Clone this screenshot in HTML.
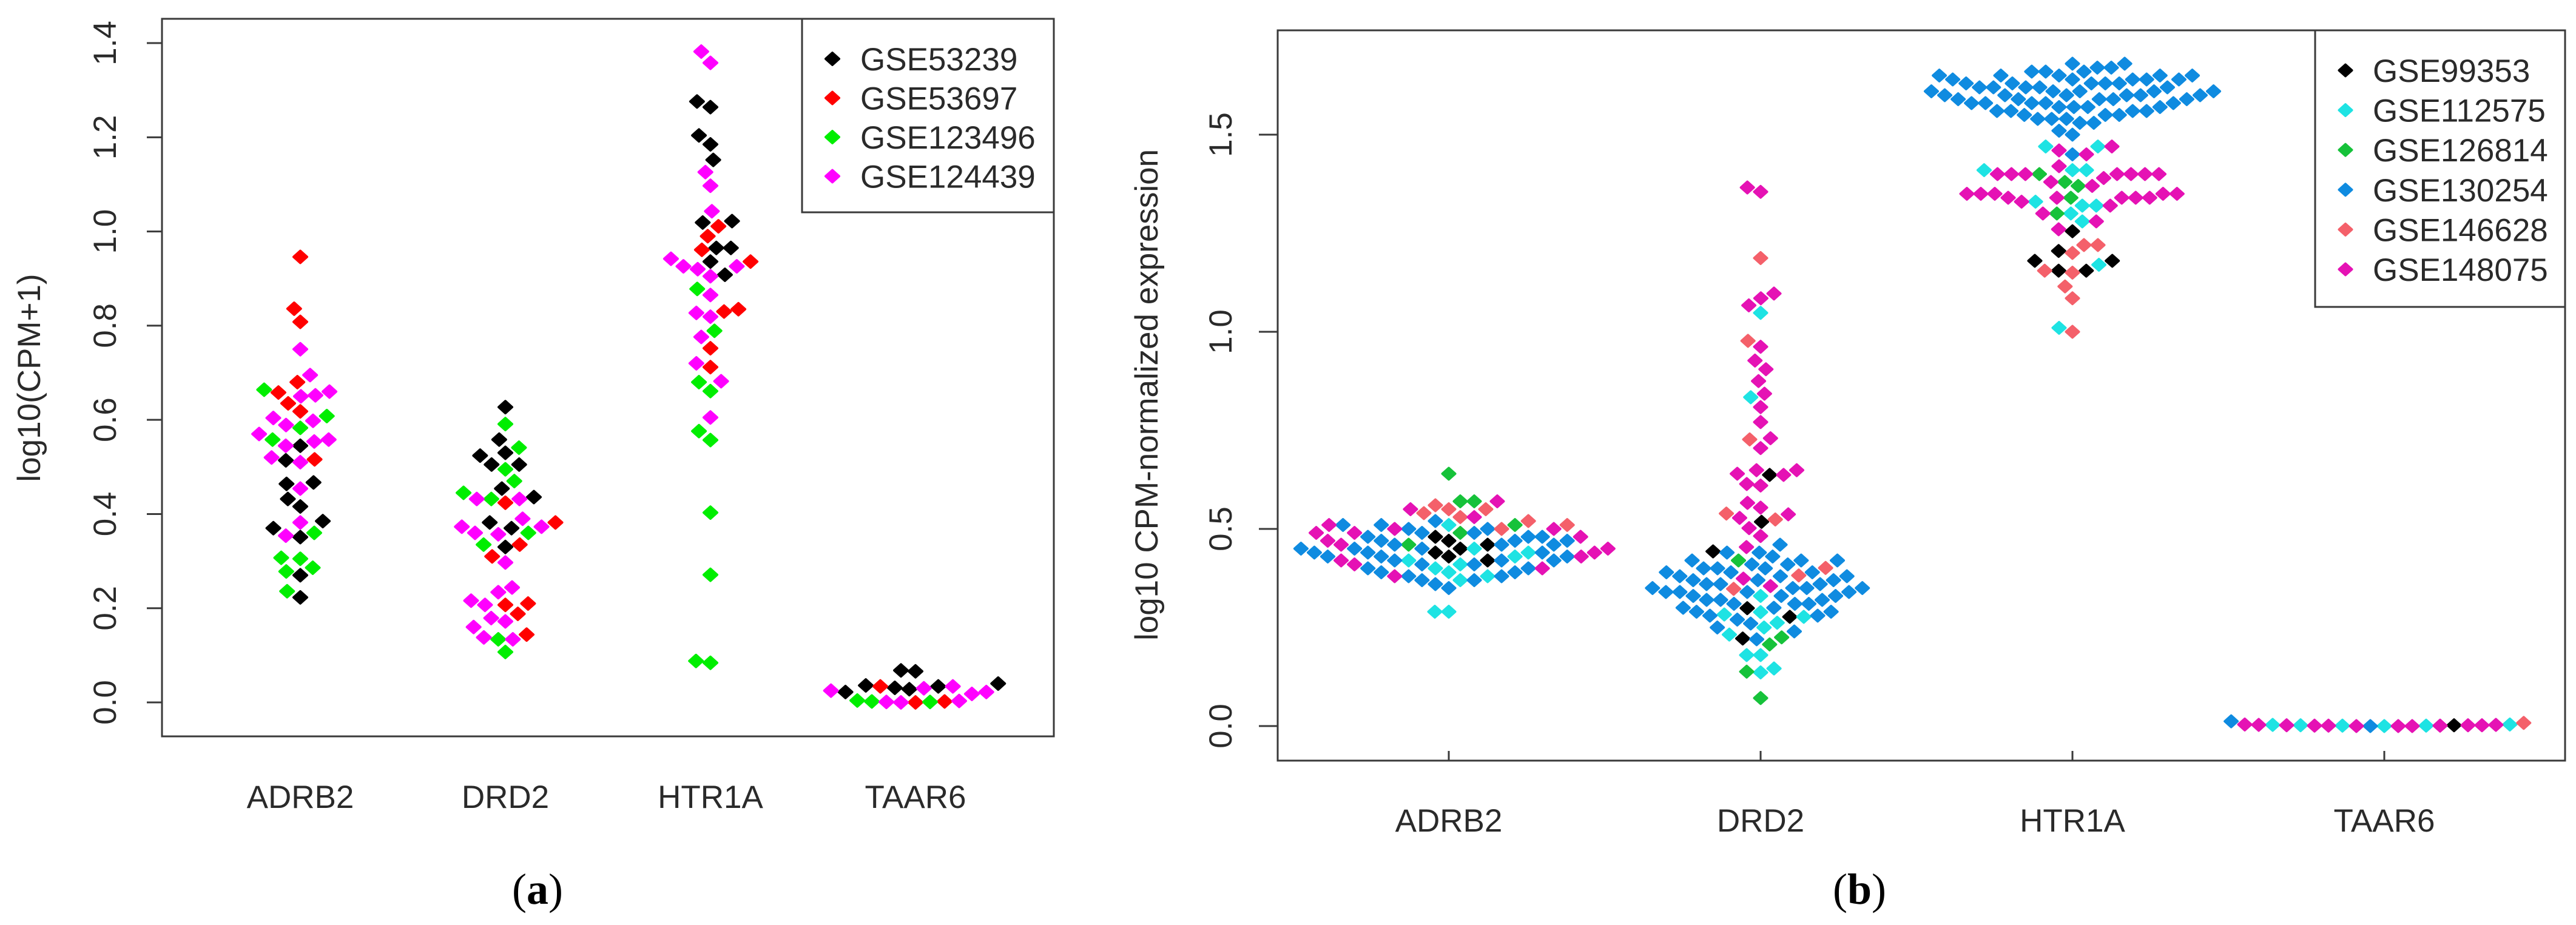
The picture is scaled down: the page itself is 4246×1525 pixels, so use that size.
<!DOCTYPE html>
<html><head><meta charset="utf-8"><style>
html,body{margin:0;padding:0;background:#fff;}
svg{display:block;}
text{font-family:"Liberation Sans",Arial,sans-serif;fill:#2a2a2a;}
</style></head><body>
<svg id="fig" width="4246" height="1525" viewBox="0 0 4246 1525" xmlns="http://www.w3.org/2000/svg">
<rect width="4246" height="1525" fill="#fff"/>
<g id="panelA"></g>
<g id="panelB"></g>
<text x="886" y="1490" text-anchor="middle" style="font-family:'Liberation Serif',serif;font-size:72px;fill:#000">(<tspan font-weight="bold">a</tspan>)</text>
<text x="3065" y="1490" text-anchor="middle" style="font-family:'Liberation Serif',serif;font-size:72px;fill:#000">(<tspan font-weight="bold">b</tspan>)</text>
</svg>
<script>
// ---------- Panel A data ----------
const genesA = ["ADRB2","DRD2","HTR1A","TAAR6"];
const datasetsA = ["GSE53239","GSE53697","GSE123496","GSE124439"];
const colorsA = ["#000000","#ff0000","#00ee00","#ff00ff"];
const ticksA = [0.0,0.2,0.4,0.6,0.8,1.0,1.2,1.4];
const tickLabelsA = ["0.0","0.2","0.4","0.6","0.8","1.0","1.2","1.4"];
const a_ADRB2 = [
 [0.545,0.514,0.464,0.467,0.432,0.416,0.385,0.351,0.37,0.27,0.223],
 [0.946,0.836,0.808,0.68,0.658,0.635,0.618,0.516],
 [0.664,0.608,0.583,0.558,0.36,0.305,0.307,0.286,0.278,0.236],
 [0.75,0.695,0.66,0.652,0.65,0.598,0.589,0.604,0.57,0.554,0.545,0.558,0.52,0.51,0.454,0.382,0.354]];
const a_DRD2 = [
 [0.627,0.558,0.53,0.524,0.505,0.505,0.454,0.436,0.382,0.37,0.33],
 [0.424,0.382,0.335,0.31,0.21,0.207,0.188,0.144],
 [0.591,0.541,0.495,0.47,0.445,0.432,0.36,0.335,0.134,0.107],
 [0.432,0.432,0.39,0.373,0.357,0.36,0.373,0.297,0.244,0.234,0.207,0.216,0.172,0.179,0.16,0.138,0.134]];
const a_HTR1A = [
 [1.276,1.264,1.204,1.185,1.152,1.019,1.022,0.965,0.965,0.936,0.908],
 [1.011,0.99,0.961,0.936,0.835,0.83,0.752,0.712],
 [0.878,0.789,0.68,0.661,0.576,0.557,0.403,0.271,0.084,0.088],
 [1.382,1.358,1.126,1.097,1.043,0.926,0.92,0.926,0.942,0.905,0.865,0.827,0.819,0.776,0.72,0.682,0.605]];
const a_TAAR6 = [
 [0.066,0.068,0.040,0.034,0.031,0.036,0.028,0.022],
 [0.034,0.002,0.0],
 [0.002,0.001,0.004],
 [0.034,0.030,0.025,0.022,0.018,0.003,0.001,0.0]];

// ---------- Panel B data ----------
const genesB = ["ADRB2","DRD2","HTR1A","TAAR6"];
const datasetsB = ["GSE99353","GSE112575","GSE126814","GSE130254","GSE146628","GSE148075"];
const colorsB = ["#000000","#1ee3e3","#16c23a","#0f8be0","#f4606a","#e512b4"];
const ticksB = [0.0,0.5,1.0,1.5];
const tickLabelsB = ["0.0","0.5","1.0","1.5"];
const b_ADRB2 = [
 [0.47,0.46,0.44,0.45,0.48,0.42,0.43],
 [0.51,0.45,0.44,0.40,0.38,0.37,0.42,0.43,0.29,0.29,0.39,0.41],
 [0.64,0.57,0.57,0.51,0.49,0.46],
 [0.52,0.51,0.51,0.50,0.50,0.49,0.49,0.48,0.48,0.48,0.47,0.47,0.47,0.46,0.46,0.46,0.45,0.45,0.45,0.44,0.44,0.44,0.43,0.43,0.43,0.42,0.42,0.42,0.41,0.41,0.40,0.40,0.39,0.39,0.38,0.38,0.37,0.37,0.36,0.35],
 [0.52,0.55,0.54,0.53,0.56,0.55,0.51,0.50],
 [0.57,0.55,0.53,0.51,0.50,0.49,0.48,0.47,0.46,0.45,0.44,0.42,0.41,0.40,0.38,0.50,0.43,0.49]];
const b_DRD2 = [
 [0.637,0.518,0.443,0.299,0.277,0.222],
 [1.048,0.834,0.33,0.277,0.262,0.232,0.18,0.18,0.146,0.136,0.289,0.283,0.25],
 [0.420,0.207,0.225,0.138,0.071],
 [0.46,0.44,0.44,0.43,0.42,0.42,0.42,0.41,0.41,0.40,0.40,0.40,0.39,0.39,0.39,0.38,0.38,0.38,0.37,0.37,0.37,0.36,0.36,0.36,0.35,0.35,0.35,0.35,0.34,0.34,0.34,0.34,0.33,0.33,0.33,0.32,0.32,0.32,0.31,0.31,0.31,0.30,0.30,0.29,0.29,0.28,0.28,0.27,0.26,0.25,0.24,0.22],
 [1.187,0.977,0.727,0.539,0.524,0.401,0.348,0.382],
 [1.366,1.355,1.085,1.097,1.067,0.962,0.927,0.905,0.875,0.843,0.809,0.771,0.73,0.705,0.649,0.637,0.649,0.640,0.610,0.614,0.566,0.554,0.537,0.528,0.502,0.482,0.454,0.355,0.374]];
const b_HTR1A = [
 [1.255,1.205,1.18,1.18,1.155,1.155],
 [1.47,1.47,1.41,1.41,1.41,1.33,1.32,1.32,1.30,1.28,1.17,1.01],
 [1.40,1.38,1.37,1.34,1.30],
 [1.68,1.68,1.67,1.67,1.66,1.66,1.66,1.65,1.65,1.65,1.65,1.65,1.64,1.64,1.64,1.64,1.64,1.63,1.63,1.63,1.63,1.63,1.62,1.62,1.62,1.62,1.62,1.61,1.61,1.61,1.61,1.61,1.60,1.60,1.60,1.60,1.60,1.60,1.59,1.59,1.59,1.59,1.59,1.58,1.58,1.58,1.58,1.58,1.57,1.57,1.57,1.57,1.56,1.56,1.56,1.56,1.55,1.55,1.55,1.54,1.54,1.54,1.53,1.53,1.51,1.50,1.45],
 [1.22,1.22,1.20,1.155,1.15,1.115,1.085,1.0],
 [1.47,1.46,1.45,1.42,1.40,1.40,1.40,1.40,1.40,1.40,1.40,1.39,1.38,1.37,1.35,1.35,1.35,1.35,1.35,1.34,1.34,1.34,1.34,1.34,1.33,1.32,1.30,1.28,1.26]];
const b_TAAR6 = [
 [0.002],
 [0.003,0.002,0.001,0.0,0.004,0.001],
 [],
 [0.012,0.0],
 [0.008],
 [0.004,0.003,0.002,0.001,0.0,0.0,0.002,0.001,0.003,0.0,0.001,0.002]];

const NS = "http://www.w3.org/2000/svg";
function mk(parent, tag, attrs){ const e=document.createElementNS(NS,tag); for(const k in attrs) e.setAttribute(k,attrs[k]); parent.appendChild(e); return e; }

function diamond(g, cx, cy, col, r){
  return mk(g,"polygon",{points:`${cx},${cy-r*0.9} ${cx+r},${cy} ${cx},${cy+r*0.9} ${cx-r},${cy}`, fill:col, stroke:col, "stroke-width":4, "stroke-linejoin":"round"});
}

// swarm layout (ascending priority), pixel space
function swarm(ysPx, d){
  const idx = ysPx.map((y,i)=>i).sort((a,b)=>ysPx[b]-ysPx[a]);
  const placed=[]; const xs=new Array(ysPx.length).fill(0);
  for(const i of idx){
    const y=ysPx[i]; const cands=[0];
    for(const p of placed){ const dy=Math.abs(p.y-y); if(dy<d){ const dx=Math.sqrt(d*d-dy*dy); cands.push(p.x+dx,p.x-dx);} }
    cands.sort((a,b)=>Math.abs(a)-Math.abs(b) || a-b);
    let best=0;
    for(const c of cands){ let ok=true; for(const p of placed){ if((c-p.x)*(c-p.x)+(y-p.y)*(y-p.y) < d*d-0.5){ok=false;break;} } if(ok){best=c;break;} }
    xs[i]=best; placed.push({x:best,y:y});
  }
  return xs;
}

function drawPanel(cfg){
  const g = document.getElementById(cfg.id);
  const yS = v => cfg.y0 - v*cfg.unit;
  const xS = i => cfg.cx0 + i*cfg.dx;
  const box = mk(g,"rect",{x:cfg.L,y:cfg.T,width:cfg.R-cfg.L,height:cfg.B-cfg.T,fill:"none",stroke:"#3a3a3a","stroke-width":3});
  
  
  cfg.ticks.forEach((t,k)=>{
    const y=yS(t);
    const ln = mk(g,"line",{x1:cfg.L-cfg.tickLen,x2:cfg.L,y1:y,y2:y,stroke:"#3a3a3a","stroke-width":3});
    
    
    const tx = mk(g,"text",{transform:`translate(${cfg.tickLabX},${y}) rotate(-90)`,"text-anchor":"middle","font-size":53});
    tx.textContent = cfg.tickLabels[k];
    
    
  });
  const yt = mk(g,"text",{transform:`translate(${cfg.ylabX},${cfg.ylabY}) rotate(-90)`,"text-anchor":"middle","font-size":53});
  yt.textContent = cfg.ylab;
  
  
  cfg.genes.forEach((gn,i)=>{
    const x=xS(i);
    if(cfg.xticks){
      const ln = mk(g,"line",{x1:x,x2:x,y1:cfg.B-16,y2:cfg.B,stroke:"#3a3a3a","stroke-width":3});
      
      
    }
    const tx = mk(g,"text",{x:x,y:cfg.xlabY,"text-anchor":"middle","font-size":53});
    tx.textContent = gn;
    
    
  });
  cfg.groups.forEach((grp,i)=>{
    const vals=[], cols=[];
    grp.forEach((arr,s)=>arr.forEach(v=>{vals.push(v);cols.push(s);}));
    const ys = vals.map(yS);
    const xs = swarm(ys, cfg.d);
    const gg = mk(g,"g",{});
    
    
    vals.forEach((v,k)=>{
      const p = diamond(gg, xS(i)+xs[k], ys[k], cfg.colors[cols[k]], cfg.r);
      
      
    });
  });
  const lg = mk(g,"g",{});
  
  
  const lr = mk(lg,"rect",{x:cfg.legL,y:cfg.legT,width:cfg.R-cfg.legL,height:cfg.legB-cfg.legT,fill:"#fff",stroke:"#3a3a3a","stroke-width":3});
  
  
  cfg.datasets.forEach((ds,s)=>{
    const y = cfg.legY0 + s*cfg.legDy;
    const m = diamond(lg, cfg.legMX, y, cfg.colors[s], cfg.r);
    
    
    const t = mk(lg,"text",{x:cfg.legTX,y:y+19,"font-size":53});
    t.textContent = ds;
    
    
  });
}

drawPanel({id:"panelA", L:267,R:1737,T:31,B:1214, y0:1158, unit:776.4, cx0:495, dx:338,
  ticks:ticksA, tickLabels:tickLabelsA, tickLen:25, tickLabX:191, ylab:"log10(CPM+1)", ylabX:66, ylabY:623,
  genes:genesA, xlabY:1332, xticks:false, groups:[a_ADRB2,a_DRD2,a_HTR1A,a_TAAR6], colors:colorsA, datasets:datasetsA,
  d:24, r:11, legL:1322, legT:31, legB:350, legY0:97, legDy:64.5, legMX:1372, legTX:1418});

drawPanel({id:"panelB", L:2106,R:4228,T:50,B:1254, y0:1197, unit:650, cx0:2388, dx:514,
  ticks:ticksB, tickLabels:tickLabelsB, tickLen:31, tickLabX:2030, ylab:"log10 CPM-normalized expression", ylabX:1908, ylabY:651,
  genes:genesB, xlabY:1371, xticks:true, groups:[b_ADRB2,b_DRD2,b_HTR1A,b_TAAR6], colors:colorsB, datasets:datasetsB,
  d:23, r:10.5, legL:3816, legT:50, legB:506, legY0:116, legDy:65.6, legMX:3866, legTX:3911});
</script>
</body></html>
